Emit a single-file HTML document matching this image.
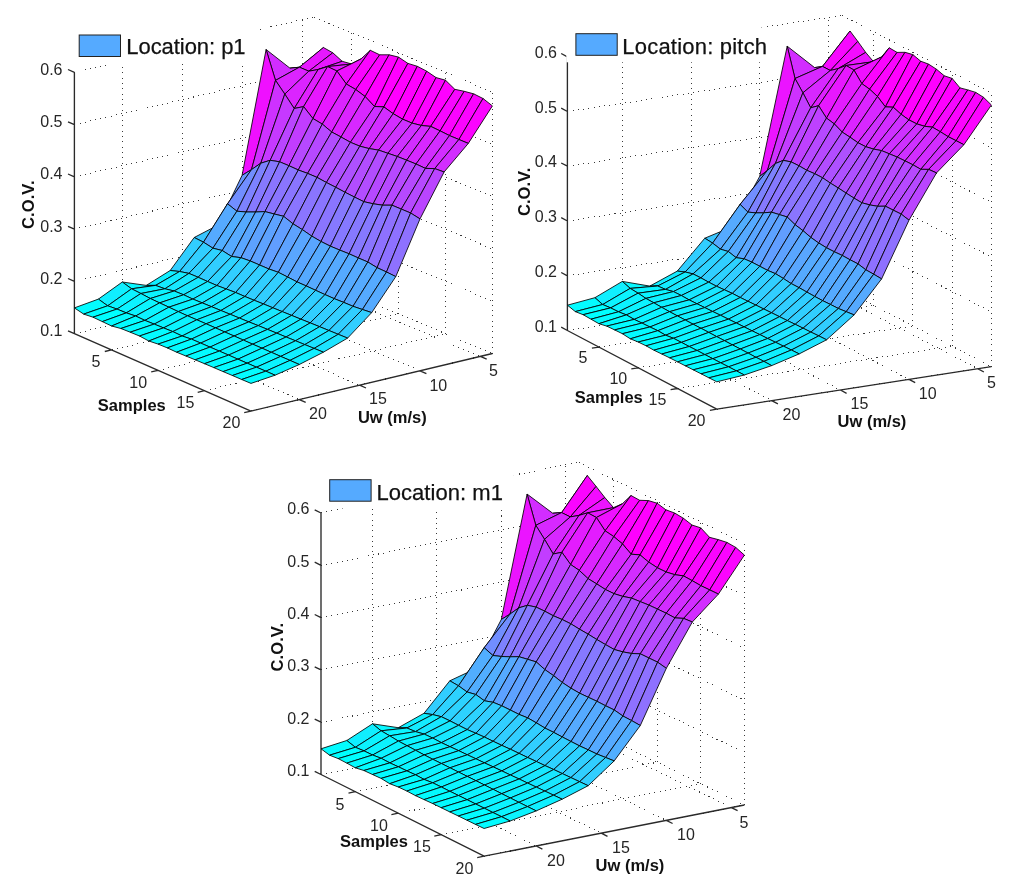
<!DOCTYPE html>
<html><head><meta charset="utf-8"><title>C.O.V. surfaces</title>
<style>
html,body{margin:0;padding:0;background:#fff}
svg{display:block}
text{font-family:"Liberation Sans",Arial,sans-serif;fill:#262626}
.tk{font-size:16px}
.e{text-anchor:end}
.m{text-anchor:middle}
.lb{font-size:16.5px;font-weight:bold;fill:#111}
.lg{font-size:22px;fill:#111;stroke:#111;stroke-width:0.25}
.grid{fill:none;stroke:#3a3a3a;stroke-width:1;stroke-dasharray:1 4.3;shape-rendering:crispEdges}
.ax{fill:none;stroke:#2a2a2a;stroke-width:1.35}
.sf path{stroke:#000;stroke-width:0.85;stroke-linejoin:round}
</style></head><body>
<svg width="1024" height="881" viewBox="0 0 1024 881">
<rect width="1024" height="881" fill="#fff"/>
<path class="grid" d="M74.4 281.4L314 225.9M314 225.9L492.4 301.2M74.4 229.1L314 173.6M314 173.6L492.4 249M74.4 176.8L314 121.4M314 121.4L492.4 196.7M74.4 124.6L314 69.1M314 69.1L492.4 144.5M74.4 72.4L314 16.9M314 16.9L492.4 92.2M122.3 322.5L122.3 61.3M122.3 322.5L299.3 399.6M182.2 308.6L182.2 47.4M182.2 308.6L359.6 385.2M242.1 294.8L242.1 33.5M242.1 294.8L420 370.8M302 280.9L302 19.7M302 280.9L480.3 356.4M351.6 294L351.6 32.8M111.6 349.9L351.6 294M398.5 313.8L398.5 52.6M158.1 370.3L398.5 313.8M445.5 333.7L445.5 72.4M204.5 390.7L445.5 333.7M492.4 353.5L492.4 92.2M251 411.1L492.4 353.5M74.4 333.6L314 278.1M314 278.1L492.4 353.5"/>
<path class="ax" d="M74.4 333.6L74.4 72.4M74.4 333.6L251 411.1M251 411.1L492.4 353.5M74.4 333.6L68 330.8M74.4 281.4L68 278.5M74.4 229.1L68 226.3M74.4 176.8L68 174M74.4 124.6L68 121.8M74.4 72.4L68 69.5M111.6 349.9L104.8 351.5M158.1 370.3L151.2 371.9M204.5 390.7L197.7 392.3M251 411.1L244.2 412.7M299.3 399.6L305.7 402.4M359.6 385.2L366 388M420 370.8L426.4 373.6M480.3 356.4L486.7 359.2"/>
<rect x="70.3" y="28.8" width="186.5" height="34.5" fill="#fff"/>
<g class="sf"><path fill="#ce31ff" d="M290 68.2L299.4 67.2L323.4 47.5L314 66Z"/><path fill="#e718ff" d="M299.4 67.2L308.8 71.2L332.8 52.8L323.4 47.5Z"/><path fill="#e718ff" d="M308.8 71.2L318.2 69.5L342.2 61.3L332.8 52.8Z"/><path fill="#e31cff" d="M318.2 69.5L327.6 66.6L351.6 64L342.2 61.3Z"/><path fill="#e31cff" d="M327.6 66.6L336.9 71L360.9 59L351.6 64Z"/><path fill="#ef10ff" d="M336.9 71L346.3 84L370.3 50.3L360.9 59Z"/><path fill="#fb04ff" d="M346.3 84L355.7 89.5L379.7 54.8L370.3 50.3Z"/><path fill="#fb04ff" d="M355.7 89.5L365.1 96.5L389.1 54.8L379.7 54.8Z"/><path fill="#ff00ff" d="M365.1 96.5L374.5 106.5L398.5 57.1L389.1 54.8Z"/><path fill="#ff00ff" d="M374.5 106.5L383.8 106.9L407.9 63.4L398.5 57.1Z"/><path fill="#ff00ff" d="M383.8 106.9L393.2 113.7L417.3 66.3L407.9 63.4Z"/><path fill="#ff00ff" d="M393.2 113.7L402.6 119.2L426.7 71.2L417.3 66.3Z"/><path fill="#ff00ff" d="M402.6 119.2L412 123.1L436.1 77.6L426.7 71.2Z"/><path fill="#fb04ff" d="M412 123.1L421.4 125.5L445.5 80.2L436.1 77.6Z"/><path fill="#ff00ff" d="M421.4 125.5L430.7 126.4L454.8 89.3L445.5 80.2Z"/><path fill="#f708ff" d="M430.7 126.4L440.1 130.9L464.2 91.3L454.8 89.3Z"/><path fill="#fb04ff" d="M440.1 130.9L449.5 135.6L473.6 93.8L464.2 91.3Z"/><path fill="#fb04ff" d="M449.5 135.6L458.9 139.5L483 98.5L473.6 93.8Z"/><path fill="#fb04ff" d="M458.9 139.5L468.3 143.4L492.4 105.9L483 98.5Z"/><path fill="#d22dff" d="M266.1 49.5L275.5 80.4L299.4 67.2L290 68.2Z"/><path fill="#db24ff" d="M275.5 80.4L284.8 94.1L308.8 71.2L299.4 67.2Z"/><path fill="#db24ff" d="M284.8 94.1L294.2 108.5L318.2 69.5L308.8 71.2Z"/><path fill="#df20ff" d="M294.2 108.5L303.6 106.6L327.6 66.6L318.2 69.5Z"/><path fill="#e718ff" d="M303.6 106.6L312.9 118.5L336.9 71L327.6 66.6Z"/><path fill="#e718ff" d="M312.9 118.5L322.3 124.1L346.3 84L336.9 71Z"/><path fill="#db24ff" d="M322.3 124.1L331.7 132L355.7 89.5L346.3 84Z"/><path fill="#db24ff" d="M331.7 132L341 137L365.1 96.5L355.7 89.5Z"/><path fill="#d728ff" d="M341 137L350.4 142.3L374.5 106.5L365.1 96.5Z"/><path fill="#ce31ff" d="M350.4 142.3L359.8 146.2L383.8 106.9L374.5 106.5Z"/><path fill="#d22dff" d="M359.8 146.2L369.2 148.6L393.2 113.7L383.8 106.9Z"/><path fill="#d22dff" d="M369.2 148.6L378.5 150.1L402.6 119.2L393.2 113.7Z"/><path fill="#ce31ff" d="M378.5 150.1L387.9 153.3L412 123.1L402.6 119.2Z"/><path fill="#ce31ff" d="M387.9 153.3L397.3 156.5L421.4 125.5L412 123.1Z"/><path fill="#d22dff" d="M397.3 156.5L406.6 160.2L430.7 126.4L421.4 125.5Z"/><path fill="#d728ff" d="M406.6 160.2L416 164L440.1 130.9L430.7 126.4Z"/><path fill="#d22dff" d="M416 164L425.4 168.4L449.5 135.6L440.1 130.9Z"/><path fill="#d22dff" d="M425.4 168.4L434.7 168.6L458.9 139.5L449.5 135.6Z"/><path fill="#d22dff" d="M434.7 168.6L444.1 172L468.3 143.4L458.9 139.5Z"/><path fill="#ef10ff" d="M242.1 175.3L251.5 169.6L275.5 80.4L266.1 49.5Z"/><path fill="#ce31ff" d="M251.5 169.6L260.8 163.2L284.8 94.1L275.5 80.4Z"/><path fill="#c639ff" d="M260.8 163.2L270.2 160.3L294.2 108.5L284.8 94.1Z"/><path fill="#ba45ff" d="M270.2 160.3L279.6 161.8L303.6 106.6L294.2 108.5Z"/><path fill="#c23dff" d="M279.6 161.8L288.9 165.7L312.9 118.5L303.6 106.6Z"/><path fill="#b649ff" d="M288.9 165.7L298.3 170L322.3 124.1L312.9 118.5Z"/><path fill="#b649ff" d="M298.3 170L307.6 173.4L331.7 132L322.3 124.1Z"/><path fill="#b24dff" d="M307.6 173.4L317 177.4L341 137L331.7 132Z"/><path fill="#b24dff" d="M317 177.4L326.4 182.5L350.4 142.3L341 137Z"/><path fill="#ae51ff" d="M326.4 182.5L335.7 187.3L359.8 146.2L350.4 142.3Z"/><path fill="#ae51ff" d="M335.7 187.3L345.1 192.3L369.2 148.6L359.8 146.2Z"/><path fill="#b24dff" d="M345.1 192.3L354.5 197.1L378.5 150.1L369.2 148.6Z"/><path fill="#b24dff" d="M354.5 197.1L363.8 201.7L387.9 153.3L378.5 150.1Z"/><path fill="#b649ff" d="M363.8 201.7L373.2 203.8L397.3 156.5L387.9 153.3Z"/><path fill="#b649ff" d="M373.2 203.8L382.5 205.2L406.6 160.2L397.3 156.5Z"/><path fill="#b649ff" d="M382.5 205.2L391.9 205.2L416 164L406.6 160.2Z"/><path fill="#b649ff" d="M391.9 205.2L401.3 209.1L425.4 168.4L416 164Z"/><path fill="#b649ff" d="M401.3 209.1L410.6 213L434.7 168.6L425.4 168.4Z"/><path fill="#ba45ff" d="M410.6 213L420 218.9L444.1 172L434.7 168.6Z"/><path fill="#6996ff" d="M218.2 225L227.5 203.8L251.5 169.6L242.1 175.3Z"/><path fill="#718eff" d="M227.5 203.8L236.9 211.2L260.8 163.2L251.5 169.6Z"/><path fill="#7d82ff" d="M236.9 211.2L246.2 212L270.2 160.3L260.8 163.2Z"/><path fill="#8679ff" d="M246.2 212L255.6 212L279.6 161.8L270.2 160.3Z"/><path fill="#8a75ff" d="M255.6 212L264.9 211.6L288.9 165.7L279.6 161.8Z"/><path fill="#8a75ff" d="M264.9 211.6L274.3 214L298.3 170L288.9 165.7Z"/><path fill="#8a75ff" d="M274.3 214L283.6 216.3L307.6 173.4L298.3 170Z"/><path fill="#8a75ff" d="M283.6 216.3L293 223.8L317 177.4L307.6 173.4Z"/><path fill="#8a75ff" d="M293 223.8L302.3 229.6L326.4 182.5L317 177.4Z"/><path fill="#8a75ff" d="M302.3 229.6L311.7 236.1L335.7 187.3L326.4 182.5Z"/><path fill="#8a75ff" d="M311.7 236.1L321 241.5L345.1 192.3L335.7 187.3Z"/><path fill="#8679ff" d="M321 241.5L330.4 246.2L354.5 197.1L345.1 192.3Z"/><path fill="#8679ff" d="M330.4 246.2L339.7 250.1L363.8 201.7L354.5 197.1Z"/><path fill="#8679ff" d="M339.7 250.1L349.1 253.8L373.2 203.8L363.8 201.7Z"/><path fill="#8679ff" d="M349.1 253.8L358.4 258L382.5 205.2L373.2 203.8Z"/><path fill="#8a75ff" d="M358.4 258L367.8 262L391.9 205.2L382.5 205.2Z"/><path fill="#8e71ff" d="M367.8 262L377.1 267.7L401.3 209.1L391.9 205.2Z"/><path fill="#8e71ff" d="M377.1 267.7L386.5 272L410.6 213L401.3 209.1Z"/><path fill="#8e71ff" d="M386.5 272L395.8 276.6L420 218.9L410.6 213Z"/><path fill="#39c6ff" d="M194.2 237.5L203.5 242.2L227.5 203.8L218.2 225Z"/><path fill="#55aaff" d="M203.5 242.2L212.9 248.2L236.9 211.2L227.5 203.8Z"/><path fill="#51aeff" d="M212.9 248.2L222.2 250.5L246.2 212L236.9 211.2Z"/><path fill="#55aaff" d="M222.2 250.5L231.6 256.5L255.6 212L246.2 212Z"/><path fill="#59a6ff" d="M231.6 256.5L240.9 257.7L264.9 211.6L255.6 212Z"/><path fill="#5da2ff" d="M240.9 257.7L250.3 261L274.3 214L264.9 211.6Z"/><path fill="#5da2ff" d="M250.3 261L259.6 265L283.6 216.3L274.3 214Z"/><path fill="#619eff" d="M259.6 265L268.9 269L293 223.8L283.6 216.3Z"/><path fill="#5da2ff" d="M268.9 269L278.3 272.3L302.3 229.6L293 223.8Z"/><path fill="#59a6ff" d="M278.3 272.3L287.6 277L311.7 236.1L302.3 229.6Z"/><path fill="#59a6ff" d="M287.6 277L297 281.9L321 241.5L311.7 236.1Z"/><path fill="#55aaff" d="M297 281.9L306.3 286L330.4 246.2L321 241.5Z"/><path fill="#55aaff" d="M306.3 286L315.6 290.3L339.7 250.1L330.4 246.2Z"/><path fill="#55aaff" d="M315.6 290.3L325 294.6L349.1 253.8L339.7 250.1Z"/><path fill="#55aaff" d="M325 294.6L334.3 298.7L358.4 258L349.1 253.8Z"/><path fill="#55aaff" d="M334.3 298.7L343.7 302.4L367.8 262L358.4 258Z"/><path fill="#55aaff" d="M343.7 302.4L353 306.3L377.1 267.7L367.8 262Z"/><path fill="#55aaff" d="M353 306.3L362.4 309.5L386.5 272L377.1 267.7Z"/><path fill="#55aaff" d="M362.4 309.5L371.7 312.6L395.8 276.6L386.5 272Z"/><path fill="#31ceff" d="M170.2 270.5L179.6 271.5L203.5 242.2L194.2 237.5Z"/><path fill="#31ceff" d="M179.6 271.5L188.9 273.4L212.9 248.2L203.5 242.2Z"/><path fill="#2dd2ff" d="M188.9 273.4L198.2 277.3L222.2 250.5L212.9 248.2Z"/><path fill="#31ceff" d="M198.2 277.3L207.6 281.5L231.6 256.5L222.2 250.5Z"/><path fill="#2dd2ff" d="M207.6 281.5L216.9 285.5L240.9 257.7L231.6 256.5Z"/><path fill="#31ceff" d="M216.9 285.5L226.2 289L250.3 261L240.9 257.7Z"/><path fill="#31ceff" d="M226.2 289L235.6 292.5L259.6 265L250.3 261Z"/><path fill="#31ceff" d="M235.6 292.5L244.9 296.5L268.9 269L259.6 265Z"/><path fill="#31ceff" d="M244.9 296.5L254.2 300.3L278.3 272.3L268.9 269Z"/><path fill="#31ceff" d="M254.2 300.3L263.6 304L287.6 277L278.3 272.3Z"/><path fill="#31ceff" d="M263.6 304L272.9 307.8L297 281.9L287.6 277Z"/><path fill="#31ceff" d="M272.9 307.8L282.2 311.6L306.3 286L297 281.9Z"/><path fill="#31ceff" d="M282.2 311.6L291.6 315.4L315.6 290.3L306.3 286Z"/><path fill="#31ceff" d="M291.6 315.4L300.9 319.2L325 294.6L315.6 290.3Z"/><path fill="#31ceff" d="M300.9 319.2L310.2 322.9L334.3 298.7L325 294.6Z"/><path fill="#31ceff" d="M310.2 322.9L319.6 326.7L343.7 302.4L334.3 298.7Z"/><path fill="#31ceff" d="M319.6 326.7L328.9 330.5L353 306.3L343.7 302.4Z"/><path fill="#31ceff" d="M328.9 330.5L338.2 334.3L362.4 309.5L353 306.3Z"/><path fill="#31ceff" d="M338.2 334.3L347.6 338.1L371.7 312.6L362.4 309.5Z"/><path fill="#10efff" d="M146.3 285.4L155.6 285.4L179.6 271.5L170.2 270.5Z"/><path fill="#14ebff" d="M155.6 285.4L164.9 288.8L188.9 273.4L179.6 271.5Z"/><path fill="#18e7ff" d="M164.9 288.8L174.2 291L198.2 277.3L188.9 273.4Z"/><path fill="#18e7ff" d="M174.2 291L183.6 294.8L207.6 281.5L198.2 277.3Z"/><path fill="#18e7ff" d="M183.6 294.8L192.9 299.1L216.9 285.5L207.6 281.5Z"/><path fill="#18e7ff" d="M192.9 299.1L202.2 302.9L226.2 289L216.9 285.5Z"/><path fill="#18e7ff" d="M202.2 302.9L211.5 306.7L235.6 292.5L226.2 289Z"/><path fill="#18e7ff" d="M211.5 306.7L220.9 310.5L244.9 296.5L235.6 292.5Z"/><path fill="#18e7ff" d="M220.9 310.5L230.2 314.3L254.2 300.3L244.9 296.5Z"/><path fill="#18e7ff" d="M230.2 314.3L239.5 318.1L263.6 304L254.2 300.3Z"/><path fill="#18e7ff" d="M239.5 318.1L248.8 321.9L272.9 307.8L263.6 304Z"/><path fill="#18e7ff" d="M248.8 321.9L258.2 325.6L282.2 311.6L272.9 307.8Z"/><path fill="#18e7ff" d="M258.2 325.6L267.5 329.4L291.6 315.4L282.2 311.6Z"/><path fill="#18e7ff" d="M267.5 329.4L276.8 333.2L300.9 319.2L291.6 315.4Z"/><path fill="#18e7ff" d="M276.8 333.2L286.1 337L310.2 322.9L300.9 319.2Z"/><path fill="#18e7ff" d="M286.1 337L295.5 340.8L319.6 326.7L310.2 322.9Z"/><path fill="#1ce3ff" d="M295.5 340.8L304.8 344.6L328.9 330.5L319.6 326.7Z"/><path fill="#1ce3ff" d="M304.8 344.6L314.1 348.4L338.2 334.3L328.9 330.5Z"/><path fill="#1ce3ff" d="M314.1 348.4L323.4 352.2L347.6 338.1L338.2 334.3Z"/><path fill="#08f7ff" d="M122.3 282L131.6 288.8L155.6 285.4L146.3 285.4Z"/><path fill="#0cf3ff" d="M131.6 288.8L140.9 293.5L164.9 288.8L155.6 285.4Z"/><path fill="#0cf3ff" d="M140.9 293.5L150.3 298.5L174.2 291L164.9 288.8Z"/><path fill="#0cf3ff" d="M150.3 298.5L159.6 302.9L183.6 294.8L174.2 291Z"/><path fill="#10efff" d="M159.6 302.9L168.9 307.2L192.9 299.1L183.6 294.8Z"/><path fill="#0cf3ff" d="M168.9 307.2L178.2 311.6L202.2 302.9L192.9 299.1Z"/><path fill="#10efff" d="M178.2 311.6L187.5 315.8L211.5 306.7L202.2 302.9Z"/><path fill="#10efff" d="M187.5 315.8L196.8 319.8L220.9 310.5L211.5 306.7Z"/><path fill="#10efff" d="M196.8 319.8L206.1 323.8L230.2 314.3L220.9 310.5Z"/><path fill="#10efff" d="M206.1 323.8L215.5 327.9L239.5 318.1L230.2 314.3Z"/><path fill="#10efff" d="M215.5 327.9L224.8 332L248.8 321.9L239.5 318.1Z"/><path fill="#10efff" d="M224.8 332L234.1 336L258.2 325.6L248.8 321.9Z"/><path fill="#10efff" d="M234.1 336L243.4 340.1L267.5 329.4L258.2 325.6Z"/><path fill="#10efff" d="M243.4 340.1L252.7 344.2L276.8 333.2L267.5 329.4Z"/><path fill="#10efff" d="M252.7 344.2L262 348.2L286.1 337L276.8 333.2Z"/><path fill="#10efff" d="M262 348.2L271.3 352.3L295.5 340.8L286.1 337Z"/><path fill="#10efff" d="M271.3 352.3L280.7 356.4L304.8 344.6L295.5 340.8Z"/><path fill="#10efff" d="M280.7 356.4L290 360.4L314.1 348.4L304.8 344.6Z"/><path fill="#10efff" d="M290 360.4L299.3 364.5L323.4 352.2L314.1 348.4Z"/><path fill="#10efff" d="M98.4 299.1L107.7 305.8L131.6 288.8L122.3 282Z"/><path fill="#0cf3ff" d="M107.7 305.8L117 309.1L140.9 293.5L131.6 288.8Z"/><path fill="#0cf3ff" d="M117 309.1L126.3 312.9L150.3 298.5L140.9 293.5Z"/><path fill="#0cf3ff" d="M126.3 312.9L135.6 316L159.6 302.9L150.3 298.5Z"/><path fill="#0cf3ff" d="M135.6 316L144.9 320.4L168.9 307.2L159.6 302.9Z"/><path fill="#0cf3ff" d="M144.9 320.4L154.2 324.1L178.2 311.6L168.9 307.2Z"/><path fill="#0cf3ff" d="M154.2 324.1L163.5 327.9L187.5 315.8L178.2 311.6Z"/><path fill="#0cf3ff" d="M163.5 327.9L172.8 331.6L196.8 319.8L187.5 315.8Z"/><path fill="#0cf3ff" d="M172.8 331.6L182.1 336L206.1 323.8L196.8 319.8Z"/><path fill="#0cf3ff" d="M182.1 336L191.4 339.1L215.5 327.9L206.1 323.8Z"/><path fill="#0cf3ff" d="M191.4 339.1L200.7 343.1L224.8 332L215.5 327.9Z"/><path fill="#0cf3ff" d="M200.7 343.1L210 347.1L234.1 336L224.8 332Z"/><path fill="#0cf3ff" d="M210 347.1L219.3 351.1L243.4 340.1L234.1 336Z"/><path fill="#0cf3ff" d="M219.3 351.1L228.6 355.1L252.7 344.2L243.4 340.1Z"/><path fill="#0cf3ff" d="M228.6 355.1L237.9 359.2L262 348.2L252.7 344.2Z"/><path fill="#0cf3ff" d="M237.9 359.2L247.2 363.2L271.3 352.3L262 348.2Z"/><path fill="#0cf3ff" d="M247.2 363.2L256.5 367.2L280.7 356.4L271.3 352.3Z"/><path fill="#0cf3ff" d="M256.5 367.2L265.8 371.2L290 360.4L280.7 356.4Z"/><path fill="#0cf3ff" d="M265.8 371.2L275.1 375.2L299.3 364.5L290 360.4Z"/><path fill="#04fbff" d="M74.4 307.9L83.7 314.1L107.7 305.8L98.4 299.1Z"/><path fill="#00ffff" d="M83.7 314.1L93 317.2L117 309.1L107.7 305.8Z"/><path fill="#00ffff" d="M93 317.2L102.3 321.6L126.3 312.9L117 309.1Z"/><path fill="#04fbff" d="M102.3 321.6L111.6 326L135.6 316L126.3 312.9Z"/><path fill="#04fbff" d="M111.6 326L120.9 328.5L144.9 320.4L135.6 316Z"/><path fill="#04fbff" d="M120.9 328.5L130.2 332.2L154.2 324.1L144.9 320.4Z"/><path fill="#04fbff" d="M130.2 332.2L139.5 336L163.5 327.9L154.2 324.1Z"/><path fill="#04fbff" d="M139.5 336L148.8 341L172.8 331.6L163.5 327.9Z"/><path fill="#04fbff" d="M148.8 341L158.1 344.1L182.1 336L172.8 331.6Z"/><path fill="#04fbff" d="M158.1 344.1L167.3 347.9L191.4 339.1L182.1 336Z"/><path fill="#04fbff" d="M167.3 347.9L176.6 352.2L200.7 343.1L191.4 339.1Z"/><path fill="#04fbff" d="M176.6 352.2L185.9 356L210 347.1L200.7 343.1Z"/><path fill="#04fbff" d="M185.9 356L195.2 359.8L219.3 351.1L210 347.1Z"/><path fill="#04fbff" d="M195.2 359.8L204.5 363.7L228.6 355.1L219.3 351.1Z"/><path fill="#04fbff" d="M204.5 363.7L213.8 367.6L237.9 359.2L228.6 355.1Z"/><path fill="#04fbff" d="M213.8 367.6L223.1 371.6L247.2 363.2L237.9 359.2Z"/><path fill="#04fbff" d="M223.1 371.6L232.4 375.5L256.5 367.2L247.2 363.2Z"/><path fill="#04fbff" d="M232.4 375.5L241.7 379.5L265.8 371.2L256.5 367.2Z"/><path fill="#04fbff" d="M241.7 379.5L251 383.4L275.1 375.2L265.8 371.2Z"/></g>
<rect x="79.2" y="35" width="41.3" height="21.5" fill="#55aaff" stroke="#222" stroke-width="1"/>
<text class="lg" x="126.3" y="54" textLength="119.3" lengthAdjust="spacing">Location: p1</text>
<text class="tk e" x="62.5" y="336.3">0.1</text>
<text class="tk e" x="62.5" y="284.0">0.2</text>
<text class="tk e" x="62.5" y="231.7">0.3</text>
<text class="tk e" x="62.5" y="179.4">0.4</text>
<text class="tk e" x="62.5" y="127.1">0.5</text>
<text class="tk e" x="62.5" y="74.8">0.6</text>
<text class="tk m" x="96" y="367.3">5</text>
<text class="tk m" x="138.2" y="388.3">10</text>
<text class="tk m" x="185.5" y="407.8">15</text>
<text class="tk m" x="231.4" y="428.1">20</text>
<text class="tk m" x="318" y="419.2">20</text>
<text class="tk m" x="378" y="404">15</text>
<text class="tk m" x="438.3" y="390.8">10</text>
<text class="tk m" x="493.4" y="376.3">5</text>
<text class="lb m" x="131.8" y="411">Samples</text>
<text class="lb m" x="392.3" y="423.3">Uw (m/s)</text>
<text class="lb m" x="33.9" y="204.7" textLength="48.4" lengthAdjust="spacing" transform="rotate(-90 33.9 204.7)">C.O.V.</text>
<path class="grid" d="M567.4 275.8L842.1 234.4M842.1 234.4L991.4 311.9M567.4 221L842.1 179.7M842.1 179.7L991.4 257.1M567.4 166.2L842.1 124.9M842.1 124.9L991.4 202.3M567.4 111.5L842.1 70.2M842.1 70.2L991.4 147.6M567.4 56.8L842.1 15.4M842.1 15.4L991.4 92.9M622.3 322.2L622.3 48.5M622.3 322.2L771.7 400.7M691 311.9L691 38.2M691 311.9L840.4 390M759.7 301.6L759.7 27.8M759.7 301.6L909 379.4M828.4 291.3L828.4 17.5M828.4 291.3L977.7 368.7M873.5 305.5L873.5 31.7M598.9 347.1L873.5 305.5M912.8 325.9L912.8 52.1M638.2 367.8L912.8 325.9M952.1 346.2L952.1 72.5M677.5 388.5L952.1 346.2M991.4 366.6L991.4 92.9M716.8 409.2L991.4 366.6M567.4 330.5L842.1 289.2M842.1 289.2L991.4 366.6"/>
<path class="ax" d="M567.4 330.5L567.4 56.8M567.4 330.5L716.8 409.2M716.8 409.2L991.4 366.6M567.4 330.5L561.2 327.2M567.4 275.8L561.2 272.5M567.4 221L561.2 217.7M567.4 166.2L561.2 163M567.4 111.5L561.2 108.2M567.4 56.8L561.2 53.5M598.9 347.1L591.9 348.1M638.2 367.8L631.3 368.9M677.5 388.5L670.6 389.6M716.8 409.2L709.9 410.3M771.7 400.7L777.9 403.9M840.4 390L846.6 393.3M909 379.4L915.2 382.6M977.7 368.7L983.9 372"/>
<rect x="566.3" y="27.4" width="211.7" height="34.9" fill="#fff"/>
<g class="sf"><path fill="#ce31ff" d="M814.6 67.6L822.5 66.4L850 31L842.1 66.9Z"/><path fill="#f708ff" d="M822.5 66.4L830.3 70.5L857.8 41.4L850 31Z"/><path fill="#f30cff" d="M830.3 70.5L838.2 68.6L865.7 52.4L857.8 41.4Z"/><path fill="#eb14ff" d="M838.2 68.6L846.1 65.5L873.5 61.7L865.7 52.4Z"/><path fill="#e31cff" d="M846.1 65.5L853.9 70L881.4 57L873.5 61.7Z"/><path fill="#ef10ff" d="M853.9 70L861.8 83.6L889.2 47.8L881.4 57Z"/><path fill="#fb04ff" d="M861.8 83.6L869.6 89.2L897.1 52.4L889.2 47.8Z"/><path fill="#fb04ff" d="M869.6 89.2L877.5 96.5L905 52.3L897.1 52.4Z"/><path fill="#ff00ff" d="M877.5 96.5L885.4 106.9L912.8 54.6L905 52.3Z"/><path fill="#ff00ff" d="M885.4 106.9L893.2 107.2L920.7 61.2L912.8 54.6Z"/><path fill="#ff00ff" d="M893.2 107.2L901.1 114.3L928.5 64.1L920.7 61.2Z"/><path fill="#ff00ff" d="M901.1 114.3L908.9 119.9L936.4 69.2L928.5 64.1Z"/><path fill="#ff00ff" d="M908.9 119.9L916.8 123.9L944.3 75.8L936.4 69.2Z"/><path fill="#fb04ff" d="M916.8 123.9L924.6 126.3L952.1 78.4L944.3 75.8Z"/><path fill="#ff00ff" d="M924.6 126.3L932.5 127.2L960 87.9L952.1 78.4Z"/><path fill="#f708ff" d="M932.5 127.2L940.4 131.8L967.8 89.9L960 87.9Z"/><path fill="#fb04ff" d="M940.4 131.8L948.2 136.7L975.7 92.4L967.8 89.9Z"/><path fill="#fb04ff" d="M948.2 136.7L956.1 140.7L983.5 97.3L975.7 92.4Z"/><path fill="#fb04ff" d="M956.1 140.7L963.9 144.7L991.4 105L983.5 97.3Z"/><path fill="#d22dff" d="M787.2 46.2L795 78.5L822.5 66.4L814.6 67.6Z"/><path fill="#d728ff" d="M795 78.5L802.9 92.8L830.3 70.5L822.5 66.4Z"/><path fill="#d728ff" d="M802.9 92.8L810.7 107.8L838.2 68.6L830.3 70.5Z"/><path fill="#df20ff" d="M810.7 107.8L818.6 105.7L846.1 65.5L838.2 68.6Z"/><path fill="#e718ff" d="M818.6 105.7L826.5 118.1L853.9 70L846.1 65.5Z"/><path fill="#e31cff" d="M826.5 118.1L834.3 123.9L861.8 83.6L853.9 70Z"/><path fill="#db24ff" d="M834.3 123.9L842.2 132.1L869.6 89.2L861.8 83.6Z"/><path fill="#db24ff" d="M842.2 132.1L850 137.2L877.5 96.5L869.6 89.2Z"/><path fill="#d728ff" d="M850 137.2L857.9 142.7L885.4 106.9L877.5 96.5Z"/><path fill="#ce31ff" d="M857.9 142.7L865.7 146.7L893.2 107.2L885.4 106.9Z"/><path fill="#d22dff" d="M865.7 146.7L873.6 149.1L901.1 114.3L893.2 107.2Z"/><path fill="#ce31ff" d="M873.6 149.1L881.5 150.6L908.9 119.9L901.1 114.3Z"/><path fill="#ce31ff" d="M881.5 150.6L889.3 153.8L916.8 123.9L908.9 119.9Z"/><path fill="#ce31ff" d="M889.3 153.8L897.2 157.1L924.6 126.3L916.8 123.9Z"/><path fill="#ce31ff" d="M897.2 157.1L905 160.9L932.5 127.2L924.6 126.3Z"/><path fill="#d22dff" d="M905 160.9L912.9 164.8L940.4 131.8L932.5 127.2Z"/><path fill="#d22dff" d="M912.9 164.8L920.8 169.3L948.2 136.7L940.4 131.8Z"/><path fill="#d22dff" d="M920.8 169.3L928.6 169.4L956.1 140.7L948.2 136.7Z"/><path fill="#d22dff" d="M928.6 169.4L936.5 172.9L963.9 144.7L956.1 140.7Z"/><path fill="#eb14ff" d="M759.7 176.4L767.5 170.3L795 78.5L787.2 46.2Z"/><path fill="#ce31ff" d="M767.5 170.3L775.4 163.5L802.9 92.8L795 78.5Z"/><path fill="#c23dff" d="M775.4 163.5L783.3 160.4L810.7 107.8L802.9 92.8Z"/><path fill="#ba45ff" d="M783.3 160.4L791.1 161.9L818.6 105.7L810.7 107.8Z"/><path fill="#be41ff" d="M791.1 161.9L799 165.8L826.5 118.1L818.6 105.7Z"/><path fill="#b649ff" d="M799 165.8L806.8 170.3L834.3 123.9L826.5 118.1Z"/><path fill="#b649ff" d="M806.8 170.3L814.7 173.7L842.2 132.1L834.3 123.9Z"/><path fill="#b24dff" d="M814.7 173.7L822.6 177.8L850 137.2L842.2 132.1Z"/><path fill="#ae51ff" d="M822.6 177.8L830.4 183.1L857.9 142.7L850 137.2Z"/><path fill="#ae51ff" d="M830.4 183.1L838.3 188L865.7 146.7L857.9 142.7Z"/><path fill="#ae51ff" d="M838.3 188L846.1 193.1L873.6 149.1L865.7 146.7Z"/><path fill="#ae51ff" d="M846.1 193.1L854 198.1L881.5 150.6L873.6 149.1Z"/><path fill="#b24dff" d="M854 198.1L861.9 202.8L889.3 153.8L881.5 150.6Z"/><path fill="#b24dff" d="M861.9 202.8L869.7 204.9L897.2 157.1L889.3 153.8Z"/><path fill="#b649ff" d="M869.7 204.9L877.6 206.3L905 160.9L897.2 157.1Z"/><path fill="#b649ff" d="M877.6 206.3L885.4 206.2L912.9 164.8L905 160.9Z"/><path fill="#b649ff" d="M885.4 206.2L893.3 210.2L920.8 169.3L912.9 164.8Z"/><path fill="#b649ff" d="M893.3 210.2L901.2 214.1L928.6 169.4L920.8 169.3Z"/><path fill="#ba45ff" d="M901.2 214.1L909 220.2L936.5 172.9L928.6 169.4Z"/><path fill="#6996ff" d="M732.2 226.8L740.1 204.4L767.5 170.3L759.7 176.4Z"/><path fill="#718eff" d="M740.1 204.4L747.9 212.1L775.4 163.5L767.5 170.3Z"/><path fill="#7d82ff" d="M747.9 212.1L755.8 212.9L783.3 160.4L775.4 163.5Z"/><path fill="#8679ff" d="M755.8 212.9L763.7 212.8L791.1 161.9L783.3 160.4Z"/><path fill="#8a75ff" d="M763.7 212.8L771.5 212.2L799 165.8L791.1 161.9Z"/><path fill="#8a75ff" d="M771.5 212.2L779.4 214.6L806.8 170.3L799 165.8Z"/><path fill="#8a75ff" d="M779.4 214.6L787.2 217L814.7 173.7L806.8 170.3Z"/><path fill="#8a75ff" d="M787.2 217L795.1 224.7L822.6 177.8L814.7 173.7Z"/><path fill="#8a75ff" d="M795.1 224.7L803 230.7L830.4 183.1L822.6 177.8Z"/><path fill="#8a75ff" d="M803 230.7L810.8 237.4L838.3 188L830.4 183.1Z"/><path fill="#8679ff" d="M810.8 237.4L818.7 243L846.1 193.1L838.3 188Z"/><path fill="#8679ff" d="M818.7 243L826.5 247.8L854 198.1L846.1 193.1Z"/><path fill="#8679ff" d="M826.5 247.8L834.4 251.8L861.9 202.8L854 198.1Z"/><path fill="#8679ff" d="M834.4 251.8L842.3 255.5L869.7 204.9L861.9 202.8Z"/><path fill="#8679ff" d="M842.3 255.5L850.1 259.8L877.6 206.3L869.7 204.9Z"/><path fill="#8a75ff" d="M850.1 259.8L858 263.9L885.4 206.2L877.6 206.3Z"/><path fill="#8e71ff" d="M858 263.9L865.8 269.8L893.3 210.2L885.4 206.2Z"/><path fill="#8e71ff" d="M865.8 269.8L873.7 274.2L901.2 214.1L893.3 210.2Z"/><path fill="#8e71ff" d="M873.7 274.2L881.6 278.9L909 220.2L901.2 214.1Z"/><path fill="#39c6ff" d="M704.8 238.2L712.6 243.1L740.1 204.4L732.2 226.8Z"/><path fill="#55aaff" d="M712.6 243.1L720.5 249.2L747.9 212.1L740.1 204.4Z"/><path fill="#51aeff" d="M720.5 249.2L728.3 251.5L755.8 212.9L747.9 212.1Z"/><path fill="#55aaff" d="M728.3 251.5L736.2 257.7L763.7 212.8L755.8 212.9Z"/><path fill="#59a6ff" d="M736.2 257.7L744.1 258.8L771.5 212.2L763.7 212.8Z"/><path fill="#5da2ff" d="M744.1 258.8L751.9 262.2L779.4 214.6L771.5 212.2Z"/><path fill="#5da2ff" d="M751.9 262.2L759.8 266.3L787.2 217L779.4 214.6Z"/><path fill="#619eff" d="M759.8 266.3L767.6 270.4L795.1 224.7L787.2 217Z"/><path fill="#5da2ff" d="M767.6 270.4L775.5 273.7L803 230.7L795.1 224.7Z"/><path fill="#59a6ff" d="M775.5 273.7L783.4 278.5L810.8 237.4L803 230.7Z"/><path fill="#59a6ff" d="M783.4 278.5L791.2 283.6L818.7 243L810.8 237.4Z"/><path fill="#55aaff" d="M791.2 283.6L799.1 287.7L826.5 247.8L818.7 243Z"/><path fill="#55aaff" d="M799.1 287.7L806.9 292.1L834.4 251.8L826.5 247.8Z"/><path fill="#55aaff" d="M806.9 292.1L814.8 296.5L842.3 255.5L834.4 251.8Z"/><path fill="#55aaff" d="M814.8 296.5L822.7 300.7L850.1 259.8L842.3 255.5Z"/><path fill="#55aaff" d="M822.7 300.7L830.5 304.5L858 263.9L850.1 259.8Z"/><path fill="#55aaff" d="M830.5 304.5L838.4 308.5L865.8 269.8L858 263.9Z"/><path fill="#55aaff" d="M838.4 308.5L846.2 311.7L873.7 274.2L865.8 269.8Z"/><path fill="#55aaff" d="M846.2 311.7L854.1 314.9L881.6 278.9L873.7 274.2Z"/><path fill="#31ceff" d="M677.3 271.1L685.1 272L712.6 243.1L704.8 238.2Z"/><path fill="#31ceff" d="M685.1 272L693 273.9L720.5 249.2L712.6 243.1Z"/><path fill="#2dd2ff" d="M693 273.9L700.9 277.9L728.3 251.5L720.5 249.2Z"/><path fill="#31ceff" d="M700.9 277.9L708.7 282.2L736.2 257.7L728.3 251.5Z"/><path fill="#2dd2ff" d="M708.7 282.2L716.6 286.3L744.1 258.8L736.2 257.7Z"/><path fill="#31ceff" d="M716.6 286.3L724.4 289.8L751.9 262.2L744.1 258.8Z"/><path fill="#31ceff" d="M724.4 289.8L732.3 293.4L759.8 266.3L751.9 262.2Z"/><path fill="#31ceff" d="M732.3 293.4L740.2 297.5L767.6 270.4L759.8 266.3Z"/><path fill="#31ceff" d="M740.2 297.5L748 301.3L775.5 273.7L767.6 270.4Z"/><path fill="#31ceff" d="M748 301.3L755.9 305.1L783.4 278.5L775.5 273.7Z"/><path fill="#31ceff" d="M755.9 305.1L763.8 309L791.2 283.6L783.4 278.5Z"/><path fill="#31ceff" d="M763.8 309L771.6 312.8L799.1 287.7L791.2 283.6Z"/><path fill="#31ceff" d="M771.6 312.8L779.5 316.7L806.9 292.1L799.1 287.7Z"/><path fill="#31ceff" d="M779.5 316.7L787.3 320.6L814.8 296.5L806.9 292.1Z"/><path fill="#31ceff" d="M787.3 320.6L795.2 324.3L822.7 300.7L814.8 296.5Z"/><path fill="#31ceff" d="M795.2 324.3L803.1 328.2L830.5 304.5L822.7 300.7Z"/><path fill="#31ceff" d="M803.1 328.2L810.9 332.1L838.4 308.5L830.5 304.5Z"/><path fill="#31ceff" d="M810.9 332.1L818.8 335.9L846.2 311.7L838.4 308.5Z"/><path fill="#31ceff" d="M818.8 335.9L826.6 339.8L854.1 314.9L846.2 311.7Z"/><path fill="#14ebff" d="M649.8 286.1L657.7 286L685.1 272L677.3 271.1Z"/><path fill="#14ebff" d="M657.7 286L665.5 289.4L693 273.9L685.1 272Z"/><path fill="#18e7ff" d="M665.5 289.4L673.4 291.6L700.9 277.9L693 273.9Z"/><path fill="#18e7ff" d="M673.4 291.6L681.3 295.5L708.7 282.2L700.9 277.9Z"/><path fill="#18e7ff" d="M681.3 295.5L689.1 299.9L716.6 286.3L708.7 282.2Z"/><path fill="#18e7ff" d="M689.1 299.9L697 303.8L724.4 289.8L716.6 286.3Z"/><path fill="#18e7ff" d="M697 303.8L704.8 307.6L732.3 293.4L724.4 289.8Z"/><path fill="#18e7ff" d="M704.8 307.6L712.7 311.5L740.2 297.5L732.3 293.4Z"/><path fill="#18e7ff" d="M712.7 311.5L720.6 315.3L748 301.3L740.2 297.5Z"/><path fill="#18e7ff" d="M720.6 315.3L728.4 319.2L755.9 305.1L748 301.3Z"/><path fill="#18e7ff" d="M728.4 319.2L736.3 323L763.8 309L755.9 305.1Z"/><path fill="#1ce3ff" d="M736.3 323L744.1 326.9L771.6 312.8L763.8 309Z"/><path fill="#1ce3ff" d="M744.1 326.9L752 330.8L779.5 316.7L771.6 312.8Z"/><path fill="#1ce3ff" d="M752 330.8L759.9 334.6L787.3 320.6L779.5 316.7Z"/><path fill="#1ce3ff" d="M759.9 334.6L767.7 338.5L795.2 324.3L787.3 320.6Z"/><path fill="#1ce3ff" d="M767.7 338.5L775.6 342.3L803.1 328.2L795.2 324.3Z"/><path fill="#1ce3ff" d="M775.6 342.3L783.5 346.2L810.9 332.1L803.1 328.2Z"/><path fill="#1ce3ff" d="M783.5 346.2L791.3 350L818.8 335.9L810.9 332.1Z"/><path fill="#1ce3ff" d="M791.3 350L799.2 353.9L826.6 339.8L818.8 335.9Z"/><path fill="#08f7ff" d="M622.3 281.4L630.2 288.4L657.7 286L649.8 286.1Z"/><path fill="#0cf3ff" d="M630.2 288.4L638.1 293.2L665.5 289.4L657.7 286Z"/><path fill="#0cf3ff" d="M638.1 293.2L645.9 298.4L673.4 291.6L665.5 289.4Z"/><path fill="#10efff" d="M645.9 298.4L653.8 302.8L681.3 295.5L673.4 291.6Z"/><path fill="#10efff" d="M653.8 302.8L661.7 307.3L689.1 299.9L681.3 295.5Z"/><path fill="#10efff" d="M661.7 307.3L669.5 311.7L697 303.8L689.1 299.9Z"/><path fill="#10efff" d="M669.5 311.7L677.4 315.9L704.8 307.6L697 303.8Z"/><path fill="#10efff" d="M677.4 315.9L685.2 320L712.7 311.5L704.8 307.6Z"/><path fill="#10efff" d="M685.2 320L693.1 324.2L720.6 315.3L712.7 311.5Z"/><path fill="#10efff" d="M693.1 324.2L701 328.3L728.4 319.2L720.6 315.3Z"/><path fill="#10efff" d="M701 328.3L708.8 332.4L736.3 323L728.4 319.2Z"/><path fill="#10efff" d="M708.8 332.4L716.7 336.6L744.1 326.9L736.3 323Z"/><path fill="#10efff" d="M716.7 336.6L724.5 340.7L752 330.8L744.1 326.9Z"/><path fill="#10efff" d="M724.5 340.7L732.4 344.9L759.9 334.6L752 330.8Z"/><path fill="#10efff" d="M732.4 344.9L740.3 349L767.7 338.5L759.9 334.6Z"/><path fill="#10efff" d="M740.3 349L748.1 353.1L775.6 342.3L767.7 338.5Z"/><path fill="#10efff" d="M748.1 353.1L756 357.3L783.5 346.2L775.6 342.3Z"/><path fill="#10efff" d="M756 357.3L763.9 361.4L791.3 350L783.5 346.2Z"/><path fill="#10efff" d="M763.9 361.4L771.7 365.6L799.2 353.9L791.3 350Z"/><path fill="#10efff" d="M594.9 297.7L602.7 304.5L630.2 288.4L622.3 281.4Z"/><path fill="#0cf3ff" d="M602.7 304.5L610.6 307.9L638.1 293.2L630.2 288.4Z"/><path fill="#0cf3ff" d="M610.6 307.9L618.5 311.8L645.9 298.4L638.1 293.2Z"/><path fill="#0cf3ff" d="M618.5 311.8L626.3 314.9L653.8 302.8L645.9 298.4Z"/><path fill="#0cf3ff" d="M626.3 314.9L634.2 319.4L661.7 307.3L653.8 302.8Z"/><path fill="#0cf3ff" d="M634.2 319.4L642 323.1L669.5 311.7L661.7 307.3Z"/><path fill="#0cf3ff" d="M642 323.1L649.9 327L677.4 315.9L669.5 311.7Z"/><path fill="#0cf3ff" d="M649.9 327L657.8 330.7L685.2 320L677.4 315.9Z"/><path fill="#0cf3ff" d="M657.8 330.7L665.6 335.2L693.1 324.2L685.2 320Z"/><path fill="#0cf3ff" d="M665.6 335.2L673.5 338.3L701 328.3L693.1 324.2Z"/><path fill="#0cf3ff" d="M673.5 338.3L681.4 342.4L708.8 332.4L701 328.3Z"/><path fill="#0cf3ff" d="M681.4 342.4L689.2 346.5L716.7 336.6L708.8 332.4Z"/><path fill="#0cf3ff" d="M689.2 346.5L697.1 350.5L724.5 340.7L716.7 336.6Z"/><path fill="#0cf3ff" d="M697.1 350.5L704.9 354.6L732.4 344.9L724.5 340.7Z"/><path fill="#0cf3ff" d="M704.9 354.6L712.8 358.7L740.3 349L732.4 344.9Z"/><path fill="#0cf3ff" d="M712.8 358.7L720.7 362.8L748.1 353.1L740.3 349Z"/><path fill="#0cf3ff" d="M720.7 362.8L728.5 366.8L756 357.3L748.1 353.1Z"/><path fill="#0cf3ff" d="M728.5 366.8L736.4 370.9L763.9 361.4L756 357.3Z"/><path fill="#0cf3ff" d="M736.4 370.9L744.3 375L771.7 365.6L763.9 361.4Z"/><path fill="#04fbff" d="M567.4 305.2L575.3 311.6L602.7 304.5L594.9 297.7Z"/><path fill="#00ffff" d="M575.3 311.6L583.1 314.7L610.6 307.9L602.7 304.5Z"/><path fill="#00ffff" d="M583.1 314.7L591 319.2L618.5 311.8L610.6 307.9Z"/><path fill="#04fbff" d="M591 319.2L598.9 323.7L626.3 314.9L618.5 311.8Z"/><path fill="#04fbff" d="M598.9 323.7L606.7 326.1L634.2 319.4L626.3 314.9Z"/><path fill="#04fbff" d="M606.7 326.1L614.6 329.9L642 323.1L634.2 319.4Z"/><path fill="#04fbff" d="M614.6 329.9L622.4 333.7L649.9 327L642 323.1Z"/><path fill="#04fbff" d="M622.4 333.7L630.3 338.8L657.8 330.7L649.9 327Z"/><path fill="#04fbff" d="M630.3 338.8L638.2 342L665.6 335.2L657.8 330.7Z"/><path fill="#04fbff" d="M638.2 342L646 345.8L673.5 338.3L665.6 335.2Z"/><path fill="#04fbff" d="M646 345.8L653.9 350.2L681.4 342.4L673.5 338.3Z"/><path fill="#04fbff" d="M653.9 350.2L661.8 354L689.2 346.5L681.4 342.4Z"/><path fill="#04fbff" d="M661.8 354L669.6 357.8L697.1 350.5L689.2 346.5Z"/><path fill="#04fbff" d="M669.6 357.8L677.5 361.8L704.9 354.6L697.1 350.5Z"/><path fill="#04fbff" d="M677.5 361.8L685.3 365.8L712.8 358.7L704.9 354.6Z"/><path fill="#04fbff" d="M685.3 365.8L693.2 369.8L720.7 362.8L712.8 358.7Z"/><path fill="#04fbff" d="M693.2 369.8L701.1 373.8L728.5 366.8L720.7 362.8Z"/><path fill="#04fbff" d="M701.1 373.8L708.9 377.8L736.4 370.9L728.5 366.8Z"/><path fill="#04fbff" d="M708.9 377.8L716.8 381.8L744.3 375L736.4 370.9Z"/></g>
<rect x="575.9" y="33.7" width="41.3" height="21.6" fill="#55aaff" stroke="#222" stroke-width="1"/>
<text class="lg" x="622.3" y="53.8" textLength="144.8" lengthAdjust="spacing">Location: pitch</text>
<text class="tk e" x="557" y="331.7">0.1</text>
<text class="tk e" x="557" y="276.9">0.2</text>
<text class="tk e" x="557" y="222.2">0.3</text>
<text class="tk e" x="557" y="167.4">0.4</text>
<text class="tk e" x="557" y="112.7">0.5</text>
<text class="tk e" x="557" y="57.9">0.6</text>
<text class="tk m" x="583" y="363">5</text>
<text class="tk m" x="618.3" y="384.3">10</text>
<text class="tk m" x="657.4" y="405">15</text>
<text class="tk m" x="696.6" y="425.5">20</text>
<text class="tk m" x="791.4" y="420.4">20</text>
<text class="tk m" x="859.4" y="408.9">15</text>
<text class="tk m" x="927.7" y="398.7">10</text>
<text class="tk m" x="991.4" y="387.9">5</text>
<text class="lb m" x="608.8" y="403.3">Samples</text>
<text class="lb m" x="872" y="427.3">Uw (m/s)</text>
<text class="lb m" x="529.6" y="191.9" textLength="48.4" lengthAdjust="spacing" transform="rotate(-90 529.6 191.9)">C.O.V.</text>
<path class="grid" d="M321 722.2L578.6 671.6M578.6 671.6L744.4 752.7M321 669.9L578.6 619.3M578.6 619.3L744.4 700.4M321 617.6L578.6 567M578.6 567L744.4 648.1M321 565.3L578.6 514.7M578.6 514.7L744.4 595.8M321 513L578.6 462.4M578.6 462.4L744.4 543.5M372.5 764.4L372.5 502.9M372.5 764.4L536.2 846M436.9 751.7L436.9 490.2M436.9 751.7L601.2 833.2M501.3 739.1L501.3 477.6M501.3 739.1L666.3 820.4M565.7 726.4L565.7 464.9M565.7 726.4L731.4 807.6M613.5 741L613.5 479.5M355.3 791.7L613.5 741M657.1 762.3L657.1 500.8M398.3 813.2L657.1 762.3M700.8 783.7L700.8 522.2M441.2 834.7L700.8 783.7M744.4 805L744.4 543.5M484.1 856.2L744.4 805M321 774.5L578.6 723.9M578.6 723.9L744.4 805"/>
<path class="ax" d="M321 774.5L321 513M321 774.5L484.1 856.2M484.1 856.2L744.4 805M321 774.5L314.7 771.4M321 722.2L314.7 719.1M321 669.9L314.7 666.8M321 617.6L314.7 614.5M321 565.3L314.7 562.2M321 513L314.7 509.9M355.3 791.7L348.5 793.1M398.3 813.2L391.4 814.6M441.2 834.7L434.3 836.1M484.1 856.2L477.2 857.6M536.2 846L542.4 849.1M601.2 833.2L607.5 836.3M666.3 820.4L672.6 823.5M731.4 807.6L737.6 810.7"/>
<rect x="320.7" y="473.5" width="193.2" height="35.0" fill="#fff"/>
<g class="sf"><path fill="#ce31ff" d="M552.8 513.3L561.6 512.6L587.3 475.5L578.6 511.5Z"/><path fill="#fb04ff" d="M561.6 512.6L570.3 516.9L596.1 486.4L587.3 475.5Z"/><path fill="#f30cff" d="M570.3 516.9L579 515.4L604.8 497.5L596.1 486.4Z"/><path fill="#eb14ff" d="M579 515.4L587.7 512.8L613.5 507.6L604.8 497.5Z"/><path fill="#e718ff" d="M587.7 512.8L596.4 517.5L622.2 503.9L613.5 507.6Z"/><path fill="#ef10ff" d="M596.4 517.5L605.1 530.8L631 495.5L622.2 503.9Z"/><path fill="#fb04ff" d="M605.1 530.8L613.8 536.6L639.7 500.3L631 495.5Z"/><path fill="#fb04ff" d="M613.8 536.6L622.5 543.9L648.4 500.6L639.7 500.3Z"/><path fill="#ff00ff" d="M622.5 543.9L631.2 554.2L657.1 503.2L648.4 500.6Z"/><path fill="#ff00ff" d="M631.2 554.2L640 554.9L665.9 509.8L657.1 503.2Z"/><path fill="#ff00ff" d="M640 554.9L648.7 562.1L674.6 513L665.9 509.8Z"/><path fill="#ff00ff" d="M648.7 562.1L657.4 567.8L683.3 518.2L674.6 513Z"/><path fill="#ff00ff" d="M657.4 567.8L666.1 572L692 525L683.3 518.2Z"/><path fill="#fb04ff" d="M666.1 572L674.8 574.7L700.8 527.9L692 525Z"/><path fill="#ff00ff" d="M674.8 574.7L683.5 575.9L709.5 537.3L700.8 527.9Z"/><path fill="#f708ff" d="M683.5 575.9L692.2 580.7L718.2 539.6L709.5 537.3Z"/><path fill="#fb04ff" d="M692.2 580.7L700.9 585.7L726.9 542.4L718.2 539.6Z"/><path fill="#fb04ff" d="M700.9 585.7L709.7 589.9L735.7 547.4L726.9 542.4Z"/><path fill="#fb04ff" d="M709.7 589.9L718.4 594.1L744.4 555.1L735.7 547.4Z"/><path fill="#d22dff" d="M527.1 494.1L535.8 525.3L561.6 512.6L552.8 513.3Z"/><path fill="#d728ff" d="M535.8 525.3L544.5 539.3L570.3 516.9L561.6 512.6Z"/><path fill="#d728ff" d="M544.5 539.3L553.2 554L579 515.4L570.3 516.9Z"/><path fill="#df20ff" d="M553.2 554L561.9 552.3L587.7 512.8L579 515.4Z"/><path fill="#e31cff" d="M561.9 552.3L570.6 564.5L596.4 517.5L587.7 512.8Z"/><path fill="#e31cff" d="M570.6 564.5L579.3 570.4L605.1 530.8L596.4 517.5Z"/><path fill="#db24ff" d="M579.3 570.4L588 578.6L613.8 536.6L605.1 530.8Z"/><path fill="#d728ff" d="M588 578.6L596.7 583.9L622.5 543.9L613.8 536.6Z"/><path fill="#d728ff" d="M596.7 583.9L605.4 589.5L631.2 554.2L622.5 543.9Z"/><path fill="#ce31ff" d="M605.4 589.5L614.1 593.7L640 554.9L631.2 554.2Z"/><path fill="#d22dff" d="M614.1 593.7L622.8 596.4L648.7 562.1L640 554.9Z"/><path fill="#ce31ff" d="M622.8 596.4L631.5 598.1L657.4 567.8L648.7 562.1Z"/><path fill="#ce31ff" d="M631.5 598.1L640.2 601.6L666.1 572L657.4 567.8Z"/><path fill="#ce31ff" d="M640.2 601.6L648.9 605.1L674.8 574.7L666.1 572Z"/><path fill="#ce31ff" d="M648.9 605.1L657.5 609.1L683.5 575.9L674.8 574.7Z"/><path fill="#d22dff" d="M657.5 609.1L666.2 613.2L692.2 580.7L683.5 575.9Z"/><path fill="#d22dff" d="M666.2 613.2L674.9 617.9L700.9 585.7L692.2 580.7Z"/><path fill="#d22dff" d="M674.9 617.9L683.6 618.4L709.7 589.9L700.9 585.7Z"/><path fill="#d22dff" d="M683.6 618.4L692.3 622L718.4 594.1L709.7 589.9Z"/><path fill="#eb14ff" d="M501.3 619.5L510 614.1L535.8 525.3L527.1 494.1Z"/><path fill="#ce31ff" d="M510 614.1L518.7 607.9L544.5 539.3L535.8 525.3Z"/><path fill="#c23dff" d="M518.7 607.9L527.4 605.3L553.2 554L544.5 539.3Z"/><path fill="#ba45ff" d="M527.4 605.3L536.1 607.1L561.9 552.3L553.2 554Z"/><path fill="#be41ff" d="M536.1 607.1L544.7 611.2L570.6 564.5L561.9 552.3Z"/><path fill="#b649ff" d="M544.7 611.2L553.4 615.8L579.3 570.4L570.6 564.5Z"/><path fill="#b649ff" d="M553.4 615.8L562.1 619.5L588 578.6L579.3 570.4Z"/><path fill="#ae51ff" d="M562.1 619.5L570.8 623.8L596.7 583.9L588 578.6Z"/><path fill="#ae51ff" d="M570.8 623.8L579.5 629.2L605.4 589.5L596.7 583.9Z"/><path fill="#ae51ff" d="M579.5 629.2L588.2 634.2L614.1 593.7L605.4 589.5Z"/><path fill="#ae51ff" d="M588.2 634.2L596.8 639.5L622.8 596.4L614.1 593.7Z"/><path fill="#ae51ff" d="M596.8 639.5L605.5 644.6L631.5 598.1L622.8 596.4Z"/><path fill="#b24dff" d="M605.5 644.6L614.2 649.5L640.2 601.6L631.5 598.1Z"/><path fill="#b24dff" d="M614.2 649.5L622.9 651.9L648.9 605.1L640.2 601.6Z"/><path fill="#b24dff" d="M622.9 651.9L631.6 653.5L657.5 609.1L648.9 605.1Z"/><path fill="#b24dff" d="M631.6 653.5L640.3 653.8L666.2 613.2L657.5 609.1Z"/><path fill="#b649ff" d="M640.3 653.8L648.9 658L674.9 617.9L666.2 613.2Z"/><path fill="#b24dff" d="M648.9 658L657.6 662.2L683.6 618.4L674.9 617.9Z"/><path fill="#b649ff" d="M657.6 662.2L666.3 668.3L692.3 622L683.6 618.4Z"/><path fill="#6996ff" d="M475.6 668.7L484.2 647.7L510 614.1L501.3 619.5Z"/><path fill="#718eff" d="M484.2 647.7L492.9 655.5L518.7 607.9L510 614.1Z"/><path fill="#7d82ff" d="M492.9 655.5L501.6 656.5L527.4 605.3L518.7 607.9Z"/><path fill="#8679ff" d="M501.6 656.5L510.2 656.8L536.1 607.1L527.4 605.3Z"/><path fill="#8a75ff" d="M510.2 656.8L518.9 656.7L544.7 611.2L536.1 607.1Z"/><path fill="#8a75ff" d="M518.9 656.7L527.6 659.3L553.4 615.8L544.7 611.2Z"/><path fill="#8a75ff" d="M527.6 659.3L536.2 661.9L562.1 619.5L553.4 615.8Z"/><path fill="#8a75ff" d="M536.2 661.9L544.9 669.6L570.8 623.8L562.1 619.5Z"/><path fill="#8a75ff" d="M544.9 669.6L553.6 675.7L579.5 629.2L570.8 623.8Z"/><path fill="#8679ff" d="M553.6 675.7L562.3 682.5L588.2 634.2L579.5 629.2Z"/><path fill="#8679ff" d="M562.3 682.5L570.9 688.2L596.8 639.5L588.2 634.2Z"/><path fill="#8679ff" d="M570.9 688.2L579.6 693.2L605.5 644.6L596.8 639.5Z"/><path fill="#8679ff" d="M579.6 693.2L588.3 697.3L614.2 649.5L605.5 644.6Z"/><path fill="#8679ff" d="M588.3 697.3L596.9 701.3L622.9 651.9L614.2 649.5Z"/><path fill="#8679ff" d="M596.9 701.3L605.6 705.8L631.6 653.5L622.9 651.9Z"/><path fill="#8a75ff" d="M605.6 705.8L614.3 710L640.3 653.8L631.6 653.5Z"/><path fill="#8e71ff" d="M614.3 710L622.9 716L648.9 658L640.3 653.8Z"/><path fill="#8e71ff" d="M622.9 716L631.6 720.6L657.6 662.2L648.9 658Z"/><path fill="#8e71ff" d="M631.6 720.6L640.3 725.5L666.3 668.3L657.6 662.2Z"/><path fill="#39c6ff" d="M449.8 680.8L458.5 685.8L484.2 647.7L475.6 668.7Z"/><path fill="#51aeff" d="M458.5 685.8L467.1 692L492.9 655.5L484.2 647.7Z"/><path fill="#51aeff" d="M467.1 692L475.8 694.5L501.6 656.5L492.9 655.5Z"/><path fill="#51aeff" d="M475.8 694.5L484.4 700.8L510.2 656.8L501.6 656.5Z"/><path fill="#55aaff" d="M484.4 700.8L493.1 702.3L518.9 656.7L510.2 656.8Z"/><path fill="#5da2ff" d="M493.1 702.3L501.7 705.8L527.6 659.3L518.9 656.7Z"/><path fill="#5da2ff" d="M501.7 705.8L510.4 710.1L536.2 661.9L527.6 659.3Z"/><path fill="#619eff" d="M510.4 710.1L519 714.4L544.9 669.6L536.2 661.9Z"/><path fill="#5da2ff" d="M519 714.4L527.7 717.9L553.6 675.7L544.9 669.6Z"/><path fill="#59a6ff" d="M527.7 717.9L536.4 722.9L562.3 682.5L553.6 675.7Z"/><path fill="#55aaff" d="M536.4 722.9L545 728.1L570.9 688.2L562.3 682.5Z"/><path fill="#55aaff" d="M545 728.1L553.7 732.4L579.6 693.2L570.9 688.2Z"/><path fill="#55aaff" d="M553.7 732.4L562.3 737L588.3 697.3L579.6 693.2Z"/><path fill="#55aaff" d="M562.3 737L571 741.5L596.9 701.3L588.3 697.3Z"/><path fill="#55aaff" d="M571 741.5L579.6 745.9L605.6 705.8L596.9 701.3Z"/><path fill="#55aaff" d="M579.6 745.9L588.3 749.9L614.3 710L605.6 705.8Z"/><path fill="#55aaff" d="M588.3 749.9L596.9 754L622.9 716L614.3 710Z"/><path fill="#55aaff" d="M596.9 754L605.6 757.5L631.6 720.6L622.9 716Z"/><path fill="#51aeff" d="M605.6 757.5L614.2 760.9L640.3 725.5L631.6 720.6Z"/><path fill="#31ceff" d="M424 713.3L432.7 714.6L458.5 685.8L449.8 680.8Z"/><path fill="#2dd2ff" d="M432.7 714.6L441.3 716.7L467.1 692L458.5 685.8Z"/><path fill="#2dd2ff" d="M441.3 716.7L450 720.9L475.8 694.5L467.1 692Z"/><path fill="#2dd2ff" d="M450 720.9L458.6 725.3L484.4 700.8L475.8 694.5Z"/><path fill="#2dd2ff" d="M458.6 725.3L467.2 729.6L493.1 702.3L484.4 700.8Z"/><path fill="#31ceff" d="M467.2 729.6L475.9 733.3L501.7 705.8L493.1 702.3Z"/><path fill="#31ceff" d="M475.9 733.3L484.5 737.1L510.4 710.1L501.7 705.8Z"/><path fill="#31ceff" d="M484.5 737.1L493.2 741.3L519 714.4L510.4 710.1Z"/><path fill="#31ceff" d="M493.2 741.3L501.8 745.4L527.7 717.9L519 714.4Z"/><path fill="#31ceff" d="M501.8 745.4L510.5 749.3L536.4 722.9L527.7 717.9Z"/><path fill="#31ceff" d="M510.5 749.3L519.1 753.4L545 728.1L536.4 722.9Z"/><path fill="#31ceff" d="M519.1 753.4L527.7 757.5L553.7 732.4L545 728.1Z"/><path fill="#31ceff" d="M527.7 757.5L536.4 761.5L562.3 737L553.7 732.4Z"/><path fill="#31ceff" d="M536.4 761.5L545 765.6L571 741.5L562.3 737Z"/><path fill="#2dd2ff" d="M545 765.6L553.7 769.5L579.6 745.9L571 741.5Z"/><path fill="#2dd2ff" d="M553.7 769.5L562.3 773.6L588.3 749.9L579.6 745.9Z"/><path fill="#31ceff" d="M562.3 773.6L570.9 777.6L596.9 754L588.3 749.9Z"/><path fill="#31ceff" d="M570.9 777.6L579.6 781.7L605.6 757.5L596.9 754Z"/><path fill="#31ceff" d="M579.6 781.7L588.2 785.7L614.2 760.9L605.6 757.5Z"/><path fill="#10efff" d="M398.3 727.7L406.9 728L432.7 714.6L424 713.3Z"/><path fill="#14ebff" d="M406.9 728L415.5 731.6L441.3 716.7L432.7 714.6Z"/><path fill="#18e7ff" d="M415.5 731.6L424.2 734.1L450 720.9L441.3 716.7Z"/><path fill="#18e7ff" d="M424.2 734.1L432.8 738.1L458.6 725.3L450 720.9Z"/><path fill="#18e7ff" d="M432.8 738.1L441.4 742.7L467.2 729.6L458.6 725.3Z"/><path fill="#18e7ff" d="M441.4 742.7L450 746.7L475.9 733.3L467.2 729.6Z"/><path fill="#18e7ff" d="M450 746.7L458.7 750.7L484.5 737.1L475.9 733.3Z"/><path fill="#18e7ff" d="M458.7 750.7L467.3 754.8L493.2 741.3L484.5 737.1Z"/><path fill="#18e7ff" d="M467.3 754.8L475.9 758.8L501.8 745.4L493.2 741.3Z"/><path fill="#18e7ff" d="M475.9 758.8L484.5 762.9L510.5 749.3L501.8 745.4Z"/><path fill="#18e7ff" d="M484.5 762.9L493.2 766.9L519.1 753.4L510.5 749.3Z"/><path fill="#18e7ff" d="M493.2 766.9L501.8 770.9L527.7 757.5L519.1 753.4Z"/><path fill="#18e7ff" d="M501.8 770.9L510.4 775L536.4 761.5L527.7 757.5Z"/><path fill="#18e7ff" d="M510.4 775L519.1 779L545 765.6L536.4 761.5Z"/><path fill="#18e7ff" d="M519.1 779L527.7 783.1L553.7 769.5L545 765.6Z"/><path fill="#18e7ff" d="M527.7 783.1L536.3 787.1L562.3 773.6L553.7 769.5Z"/><path fill="#18e7ff" d="M536.3 787.1L544.9 791.1L570.9 777.6L562.3 773.6Z"/><path fill="#1ce3ff" d="M544.9 791.1L553.6 795.2L579.6 781.7L570.9 777.6Z"/><path fill="#1ce3ff" d="M553.6 795.2L562.2 799.2L588.2 785.7L579.6 781.7Z"/><path fill="#08f7ff" d="M372.5 723.8L381.1 730.8L406.9 728L398.3 727.7Z"/><path fill="#0cf3ff" d="M381.1 730.8L389.7 735.8L415.5 731.6L406.9 728Z"/><path fill="#0cf3ff" d="M389.7 735.8L398.4 741.1L424.2 734.1L415.5 731.6Z"/><path fill="#0cf3ff" d="M398.4 741.1L407 745.7L432.8 738.1L424.2 734.1Z"/><path fill="#10efff" d="M407 745.7L415.6 750.3L441.4 742.7L432.8 738.1Z"/><path fill="#0cf3ff" d="M415.6 750.3L424.2 754.9L450 746.7L441.4 742.7Z"/><path fill="#10efff" d="M424.2 754.9L432.8 759.3L458.7 750.7L450 746.7Z"/><path fill="#10efff" d="M432.8 759.3L441.4 763.5L467.3 754.8L458.7 750.7Z"/><path fill="#10efff" d="M441.4 763.5L450 767.8L475.9 758.8L467.3 754.8Z"/><path fill="#10efff" d="M450 767.8L458.6 772.1L484.5 762.9L475.9 758.8Z"/><path fill="#10efff" d="M458.6 772.1L467.3 776.4L493.2 766.9L484.5 762.9Z"/><path fill="#10efff" d="M467.3 776.4L475.9 780.7L501.8 770.9L493.2 766.9Z"/><path fill="#10efff" d="M475.9 780.7L484.5 785L510.4 775L501.8 770.9Z"/><path fill="#10efff" d="M484.5 785L493.1 789.3L519.1 779L510.4 775Z"/><path fill="#10efff" d="M493.1 789.3L501.7 793.7L527.7 783.1L519.1 779Z"/><path fill="#10efff" d="M501.7 793.7L510.3 798L536.3 787.1L527.7 783.1Z"/><path fill="#10efff" d="M510.3 798L518.9 802.3L544.9 791.1L536.3 787.1Z"/><path fill="#10efff" d="M518.9 802.3L527.5 806.6L553.6 795.2L544.9 791.1Z"/><path fill="#10efff" d="M527.5 806.6L536.2 810.9L562.2 799.2L553.6 795.2Z"/><path fill="#10efff" d="M346.8 740.5L355.4 747.3L381.1 730.8L372.5 723.8Z"/><path fill="#0cf3ff" d="M355.4 747.3L364 750.9L389.7 735.8L381.1 730.8Z"/><path fill="#0cf3ff" d="M364 750.9L372.6 755L398.4 741.1L389.7 735.8Z"/><path fill="#0cf3ff" d="M372.6 755L381.2 758.3L407 745.7L398.4 741.1Z"/><path fill="#0cf3ff" d="M381.2 758.3L389.8 762.9L415.6 750.3L407 745.7Z"/><path fill="#0cf3ff" d="M389.8 762.9L398.4 766.8L424.2 754.9L415.6 750.3Z"/><path fill="#0cf3ff" d="M398.4 766.8L406.9 770.9L432.8 759.3L424.2 754.9Z"/><path fill="#0cf3ff" d="M406.9 770.9L415.5 774.8L441.4 763.5L432.8 759.3Z"/><path fill="#0cf3ff" d="M415.5 774.8L424.1 779.4L450 767.8L441.4 763.5Z"/><path fill="#0cf3ff" d="M424.1 779.4L432.7 782.8L458.6 772.1L450 767.8Z"/><path fill="#0cf3ff" d="M432.7 782.8L441.3 787L467.3 776.4L458.6 772.1Z"/><path fill="#0cf3ff" d="M441.3 787L449.9 791.3L475.9 780.7L467.3 776.4Z"/><path fill="#0cf3ff" d="M449.9 791.3L458.5 795.5L484.5 785L475.9 780.7Z"/><path fill="#0cf3ff" d="M458.5 795.5L467.1 799.7L493.1 789.3L484.5 785Z"/><path fill="#0cf3ff" d="M467.1 799.7L475.7 804L501.7 793.7L493.1 789.3Z"/><path fill="#0cf3ff" d="M475.7 804L484.3 808.2L510.3 798L501.7 793.7Z"/><path fill="#0cf3ff" d="M484.3 808.2L492.9 812.5L518.9 802.3L510.3 798Z"/><path fill="#0cf3ff" d="M492.9 812.5L501.5 816.7L527.5 806.6L518.9 802.3Z"/><path fill="#0cf3ff" d="M501.5 816.7L510.1 821L536.2 810.9L527.5 806.6Z"/><path fill="#04fbff" d="M321 748.8L329.6 755.2L355.4 747.3L346.8 740.5Z"/><path fill="#00ffff" d="M329.6 755.2L338.2 758.6L364 750.9L355.4 747.3Z"/><path fill="#00ffff" d="M338.2 758.6L346.8 763.1L372.6 755L364 750.9Z"/><path fill="#04fbff" d="M346.8 763.1L355.3 767.8L381.2 758.3L372.6 755Z"/><path fill="#04fbff" d="M355.3 767.8L363.9 770.5L389.8 762.9L381.2 758.3Z"/><path fill="#04fbff" d="M363.9 770.5L372.5 774.5L398.4 766.8L389.8 762.9Z"/><path fill="#04fbff" d="M372.5 774.5L381.1 778.4L406.9 770.9L398.4 766.8Z"/><path fill="#04fbff" d="M381.1 778.4L389.7 783.7L415.5 774.8L406.9 770.9Z"/><path fill="#04fbff" d="M389.7 783.7L398.3 787L424.1 779.4L415.5 774.8Z"/><path fill="#04fbff" d="M398.3 787L406.8 791L432.7 782.8L424.1 779.4Z"/><path fill="#04fbff" d="M406.8 791L415.4 795.6L441.3 787L432.7 782.8Z"/><path fill="#04fbff" d="M415.4 795.6L424 799.6L449.9 791.3L441.3 787Z"/><path fill="#04fbff" d="M424 799.6L432.6 803.5L458.5 795.5L449.9 791.3Z"/><path fill="#04fbff" d="M432.6 803.5L441.2 807.7L467.1 799.7L458.5 795.5Z"/><path fill="#04fbff" d="M441.2 807.7L449.8 811.9L475.7 804L467.1 799.7Z"/><path fill="#04fbff" d="M449.8 811.9L458.3 816L484.3 808.2L475.7 804Z"/><path fill="#04fbff" d="M458.3 816L466.9 820.2L492.9 812.5L484.3 808.2Z"/><path fill="#04fbff" d="M466.9 820.2L475.5 824.4L501.5 816.7L492.9 812.5Z"/><path fill="#04fbff" d="M475.5 824.4L484.1 828.5L510.1 821L501.5 816.7Z"/></g>
<rect x="329.7" y="479.7" width="41.4" height="21.5" fill="#55aaff" stroke="#222" stroke-width="1"/>
<text class="lg" x="376.4" y="499.8" textLength="126.5" lengthAdjust="spacing">Location: m1</text>
<text class="tk e" x="309.5" y="776.0">0.1</text>
<text class="tk e" x="309.5" y="723.6">0.2</text>
<text class="tk e" x="309.5" y="671.3">0.3</text>
<text class="tk e" x="309.5" y="619.0">0.4</text>
<text class="tk e" x="309.5" y="566.6">0.5</text>
<text class="tk e" x="309.5" y="514.2">0.6</text>
<text class="tk m" x="340" y="809.8">5</text>
<text class="tk m" x="379" y="830.5">10</text>
<text class="tk m" x="421.9" y="851.5">15</text>
<text class="tk m" x="464.5" y="873.5">20</text>
<text class="tk m" x="556" y="866">20</text>
<text class="tk m" x="621" y="853">15</text>
<text class="tk m" x="686" y="840.4">10</text>
<text class="tk m" x="744" y="828">5</text>
<text class="lb m" x="374" y="847.3">Samples</text>
<text class="lb m" x="630" y="871.4">Uw (m/s)</text>
<text class="lb m" x="282.6" y="647.2" textLength="48.4" lengthAdjust="spacing" transform="rotate(-90 282.6 647.2)">C.O.V.</text>
</svg>
</body></html>
